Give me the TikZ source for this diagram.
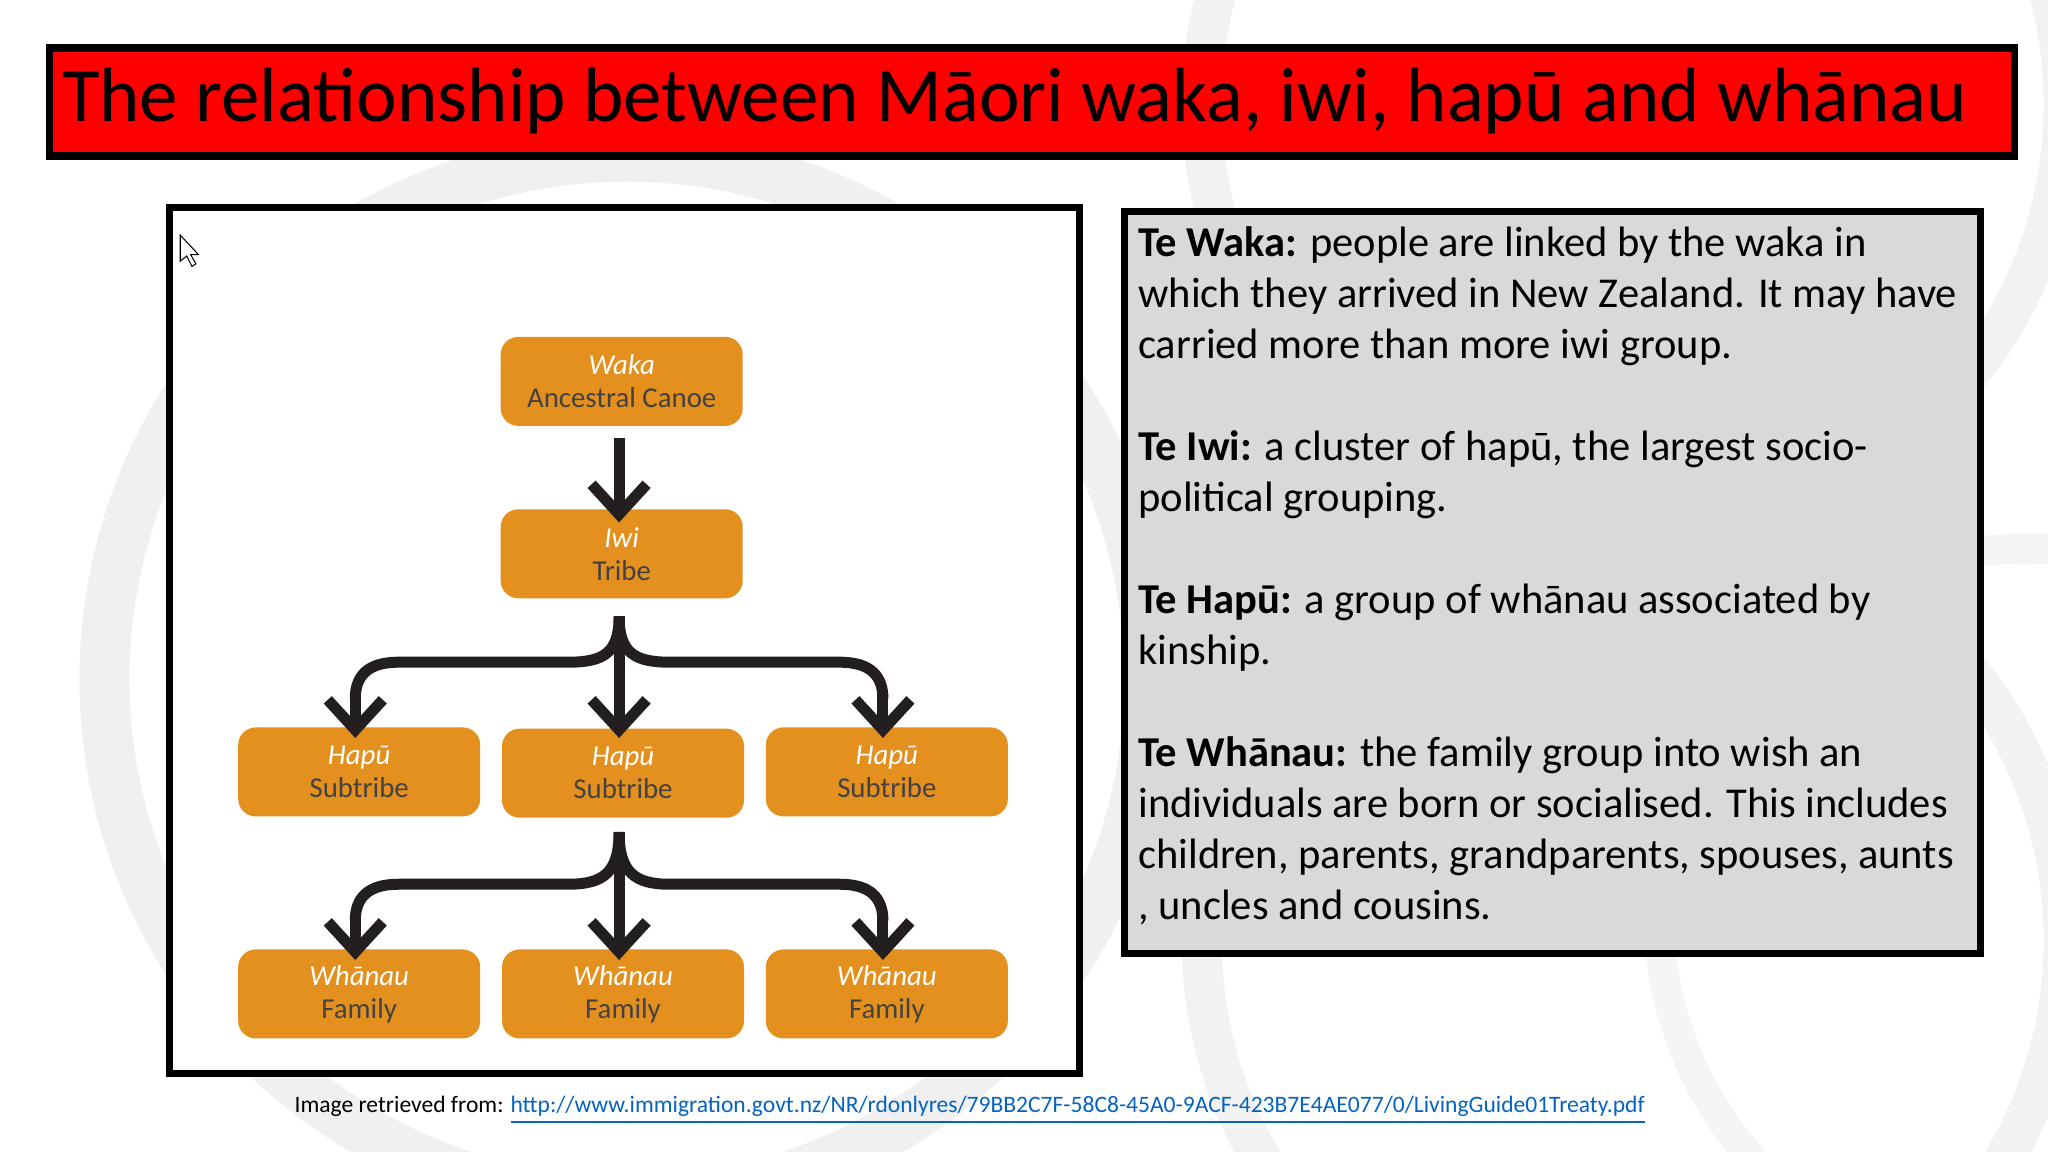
\documentclass[tikz,border=0pt]{standalone}
\usepackage{fontspec}
\setmainfont{Carlito}
\usetikzlibrary{arrows.meta}
\definecolor{org}{HTML}{E3901F}
\definecolor{dk}{HTML}{231F20}
\definecolor{lnk}{HTML}{0563C1}
\tikzset{
 orgbox/.style={fill=org,rounded corners=5pt,minimum width=2.42cm,minimum height=0.89cm,align=center,inner sep=0pt,font=\fontsize{8.2}{9.4}\selectfont,text=dk!85},
 arr/.style={draw=dk,line width=0.11cm,-{Straight Barb[length=0.3cm,width=0.55cm]}},
 ln/.style={draw=dk,line width=0.11cm},
 frame/.style={draw=black,line width=0.075cm}
}
\newcommand{\tw}[1]{{\color{white}\itshape #1}}
\begin{document}
\begin{tikzpicture}[x=0.013061cm,y=-0.013061cm]
\useasboundingbox (0,0) rectangle (1568,882);
\fill[white] (0,0) rectangle (1568,882);
% faint background arcs
\begin{scope}
\clip (0,0) rectangle (1568,882);
\draw[gray!12,line width=0.5cm] (480,520) circle (400);
\draw[gray!10,line width=0.4cm] (1250,720) circle (330);
\draw[gray!10,line width=0.4cm] (1250,80) circle (330);
\draw[gray!8,line width=0.3cm] (1550,700) circle (280);
\end{scope}
% title
\node[frame,fill=red,minimum width=19.65cm,minimum height=1.08cm,anchor=north west,inner sep=0pt] (title) at (35,34) {};
\node[anchor=west,inner sep=0pt,font=\fontsize{21.9}{24}\selectfont] (ttext) at (47,77) {The relationship between Māori waka, iwi, hapū and whānau};
% left box
\node[frame,fill=white,minimum width=9.1cm,minimum height=8.66cm,anchor=north west,inner sep=0pt] (lbox) at (127,156) {};
% cursor
\fill[white,draw=black,line width=0.3pt] (138,180) -- (138,200) -- (143,196) -- (147,204) -- (150,202) -- (146,195) -- (152,195) -- cycle;
% nodes
\node[orgbox] (waka) at (476,292) {\tw{Waka}\\Ancestral Canoe};
\node[orgbox] (iwi) at (476,424) {\tw{Iwi}\\Tribe};
\node[orgbox] (h1) at (275,591) {\tw{Hapū}\\Subtribe};
\node[orgbox] (h2) at (477,592) {\tw{Hapū}\\Subtribe};
\node[orgbox] (h3) at (679,591) {\tw{Hapū}\\Subtribe};
\node[orgbox] (w1) at (275,761) {\tw{Whānau}\\Family};
\node[orgbox] (w2) at (477,761) {\tw{Whānau}\\Family};
\node[orgbox] (w3) at (679,761) {\tw{Whānau}\\Family};
% arrows
\coordinate (j1) at (474,472);
\coordinate (j2) at (474,637);
\draw[arr] (474,335) -- (474,400);
\draw[arr] (j1) -- (474,565);
\draw[ln] (j1) .. controls (474,500) and (462,507) .. (435,507) -- (305,507) .. controls (281,507) and (272,518) .. (272,535);
\draw[arr] (272,530) -- (272,565);
\draw[ln] (j1) .. controls (474,500) and (486,507) .. (513,507) -- (643,507) .. controls (667,507) and (676,518) .. (676,535);
\draw[arr] (676,530) -- (676,565);
\draw[arr] (j2) -- (474,735);
\draw[ln] (j2) .. controls (474,668) and (462,677) .. (435,677) -- (305,677) .. controls (281,677) and (272,688) .. (272,705);
\draw[arr] (272,700) -- (272,735);
\draw[ln] (j2) .. controls (474,668) and (486,677) .. (513,677) -- (643,677) .. controls (667,677) and (676,688) .. (676,705);
\draw[arr] (676,700) -- (676,735);
% right box
\node[frame,fill=gray!30,minimum width=8.56cm,minimum height=7.42cm,anchor=north west,inner sep=0pt] (rbox) at (858,159) {};
\node[anchor=north west,align=left,inner sep=0pt,font=\fontsize{12.1}{14.5}\selectfont] (rtext) at (871,173) {%
\textbf{Te Waka:} people are linked by the waka in\\
which they arrived in New Zealand. It may have\\
carried more than more iwi group.\\[14.5pt]
\textbf{Te Iwi:} a cluster of hapū, the largest socio-\\
political grouping.\\[14.5pt]
\textbf{Te Hapū:} a group of whānau associated by\\
kinship.\\[14.5pt]
\textbf{Te Whānau:} the family group into wish an\\
individuals are born or socialised. This includes\\
children, parents, grandparents, spouses, aunts\\
, uncles and cousins.};
% caption
\node[anchor=west,inner sep=0pt,font=\fontsize{6.7}{8}\selectfont] (cap) at (225,850) {Image retrieved from: {\color{lnk}\underline{http://www.immigration.govt.nz/NR/rdonlyres/79BB2C7F-58C8-45A0-9ACF-423B7E4AE077/0/LivingGuide01Treaty.pdf}}};
\end{tikzpicture}
\end{document}
